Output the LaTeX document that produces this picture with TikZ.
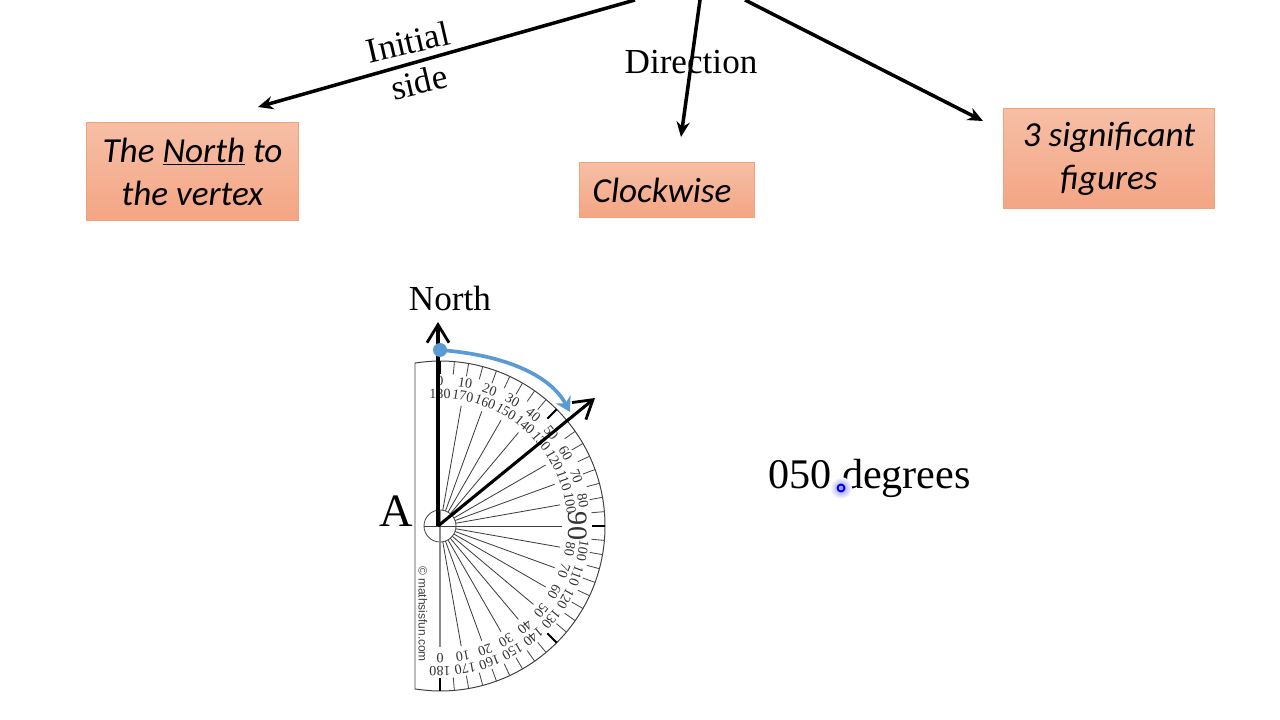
\documentclass[tikz,border=0pt]{standalone}
\usepackage{fontspec}
\setmainfont{Liberation Serif}
\newfontfamily\calloutfont{Carlito}
\newfontfamily\creditfont{Liberation Sans}
\usetikzlibrary{arrows.meta,calc}

\definecolor{calloutTop}{HTML}{F6BFA6}
\definecolor{calloutBottom}{HTML}{F4A584}
\definecolor{calloutEdge}{HTML}{EFA377}
\definecolor{sweepblue}{HTML}{5B9BD5}
\tikzset{
	callout/.style={draw=calloutEdge,line width=0.7pt,top color=calloutTop,bottom color=calloutBottom,
		align=center,inner sep=0pt,font=\calloutfont\itshape\fontsize{25}{30.5}\selectfont},
	pointer/.style={line width=2.5pt,-{Stealth[length=3.8mm,width=3.3mm]}},
	sideline/.style={line width=2.2pt,-{Straight Barb[length=4.5mm,width=5.5mm,line width=2pt]}},
	sidetext/.style={inner sep=0pt,font=\fontsize{25}{28}\selectfont},
	scaletext/.style={inner sep=0pt,text=black!80,font=\fontsize{10}{11}\selectfont},
}

\begin{document}
\begin{tikzpicture}[x=0.025cm,y=-0.025cm]
	\useasboundingbox (0,0) rectangle (1280,720);

	% boxes along the top
	\node[callout,minimum width=5.3cm,minimum height=2.45cm] (vertex) at (192.5,171.5) {The \underline{North} to\\the vertex};
	\node[callout,minimum width=4.375cm,minimum height=1.375cm] (clockwise) at (667,190) {Clockwise\hspace*{7pt}};
	\node[callout,minimum width=5.275cm,minimum height=2.5cm] (figures) at (1109,158.5) {3 significant\\figures};

	% arrows come in from above the page
	\coordinate (startA) at (635,0);
	\coordinate (startB) at (700,0);
	\coordinate (startC) at (745,0);
	\coordinate (tipA) at (258,107);
	\coordinate (tipB) at (681,137);
	\coordinate (tipC) at (983,121);
	\draw[pointer] (startA) -- (tipA);
	\draw[pointer] (startB) -- (tipB);
	\draw[pointer] (startC) -- (tipC);
	\node[sidetext,rotate=13] (initial) at (408,42) {Initial};
	\node[sidetext,rotate=13] (side) at (419,82) {side};
	\node[sidetext] (direction) at (691,62) {Direction};

	% protractor
	\coordinate (centro) at (440,526);
	\draw[black!75,line width=0.7pt] (415,363) -- (415,689) .. controls (423,690) and (431,691) .. (440,691)
		arc[start angle=90,end angle=-90,radius=165] .. controls (431,361) and (423,362) .. (415,363);
	\draw[black!70,line width=0.6pt] (centro) circle[radius=16];
	\draw[black!45,line width=1.5pt] (440,510) -- (440,647);
	\draw[black!75,line width=0.7pt] (424,526) -- (562,526);
	\foreach \a in {5,10,...,175}{
		\draw[black!70,line width=0.6pt] ($(centro)+(\a-90:152)$) -- ($(centro)+(\a-90:165)$);
	}
	\foreach \a in {0,45,90,135,180}{
		\draw[black,line width=1.4pt] ($(centro)+(\a-90:152)$) -- ($(centro)+(\a-90:165)$);
	}
	\foreach \a in {10,20,...,80,100,110,...,170}{
		\draw[black!75,line width=0.6pt] ($(centro)+(\a-90:16)$) -- ($(centro)+(\a-90:122)$);
	}
	\foreach \a [evaluate=\a as \b using int(180-\a)] in {0,10,...,80,100,110,...,180}{
		\node[scaletext,rotate=-\a] (outer\a) at ($(centro)+(\a-90:145)$) {\a};
		\node[scaletext,rotate=-\a] (inner\a) at ($(centro)+(\a-90:132)$) {\b};
	}
	\node[inner sep=0pt,text=black!80,rotate=-90,font=\fontsize{20}{20}\selectfont] (ninety) at ($(centro)+(0:138)$) {90};
	\node[inner sep=0pt,text=black!75,rotate=-90,font=\creditfont\fontsize{8.5}{9}\selectfont] (credit) at (423,614) {© mathsisfun.com};

	% north, bearing and the sweep between them
	\coordinate (north) at (438,322);
	\coordinate (bearing) at (595,398);
	\coordinate (vertexA) at (438,526);
	\draw[sideline] (vertexA) -- (north);
	\draw[sideline] (vertexA) -- (bearing);
	\coordinate (sweepstart) at (440,350);
	\coordinate (sweepend) at (570,412);
	\draw[sweepblue,line width=2.6pt,-{Stealth[length=3.6mm,width=4.2mm]}] (sweepstart) .. controls (505,355) and (550,375) .. (sweepend);
	\fill[sweepblue] (sweepstart) circle[radius=7];
	\node[inner sep=0pt,font=\fontsize{25}{28}\selectfont] (northlabel) at (450,298) {North};
	\node[inner sep=0pt,font=\fontsize{33}{36}\selectfont] (vertexlabel) at (396,511) {A};

	% answer and the pointer dot
	\node[inner sep=0pt,font=\fontsize{30}{34}\selectfont] (answer) at (869.5,478) {050 degrees};
	\coordinate (cursor) at (841,488);
	\shade[inner color=blue!45,outer color=white] (cursor) circle[radius=11];
	\draw[blue!85!black,line width=1.3pt] (cursor) circle[radius=3.5];
\end{tikzpicture}
\end{document}
